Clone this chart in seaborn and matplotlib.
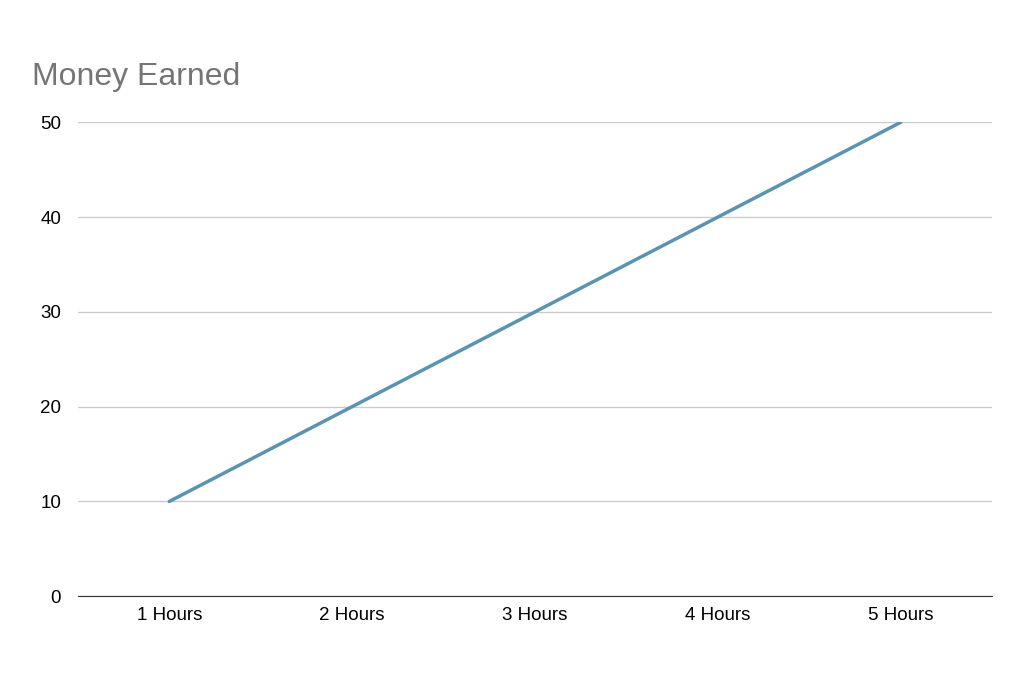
import matplotlib
matplotlib.use('Agg')
import matplotlib.pyplot as plt
import seaborn as sns
import pandas as pd

hours = ['1 Hours', '2 Hours', '3 Hours', '4 Hours', '5 Hours']
money = [10, 20, 30, 40, 50]

sns.set_style('white')
plt.rcParams['font.family'] = ['Liberation Sans', 'DejaVu Sans']

df = pd.DataFrame({'hours': hours, 'money': money})

fig = plt.figure(figsize=(10.24, 6.83), dpi=100)
ax = fig.add_axes([0.076, 0.127, 0.893, 0.694])
sns.lineplot(data=df, x='hours', y='money', ax=ax, color='#5b93b0', linewidth=2.5, sort=False)

ax.set_xlim(-0.5, 4.5)
ax.set_ylim(0, 50)
ax.set_yticks([0, 10, 20, 30, 40, 50])
ax.yaxis.grid(True, color='#cccccc', linewidth=1)
ax.set_axisbelow(True)
for s in ['top', 'right', 'left']:
    ax.spines[s].set_visible(False)
ax.spines['bottom'].set_color('#333333')
ax.tick_params(axis='both', length=0, labelsize=13.5, colors='black')
ax.tick_params(axis='x', pad=8)
ax.tick_params(axis='y', pad=12)
ax.set_xlabel('')
ax.set_ylabel('')

fig.text(0.031, 0.875, 'Money Earned', fontsize=23, color='#757575')

fig.savefig('out.png', dpi=100)
